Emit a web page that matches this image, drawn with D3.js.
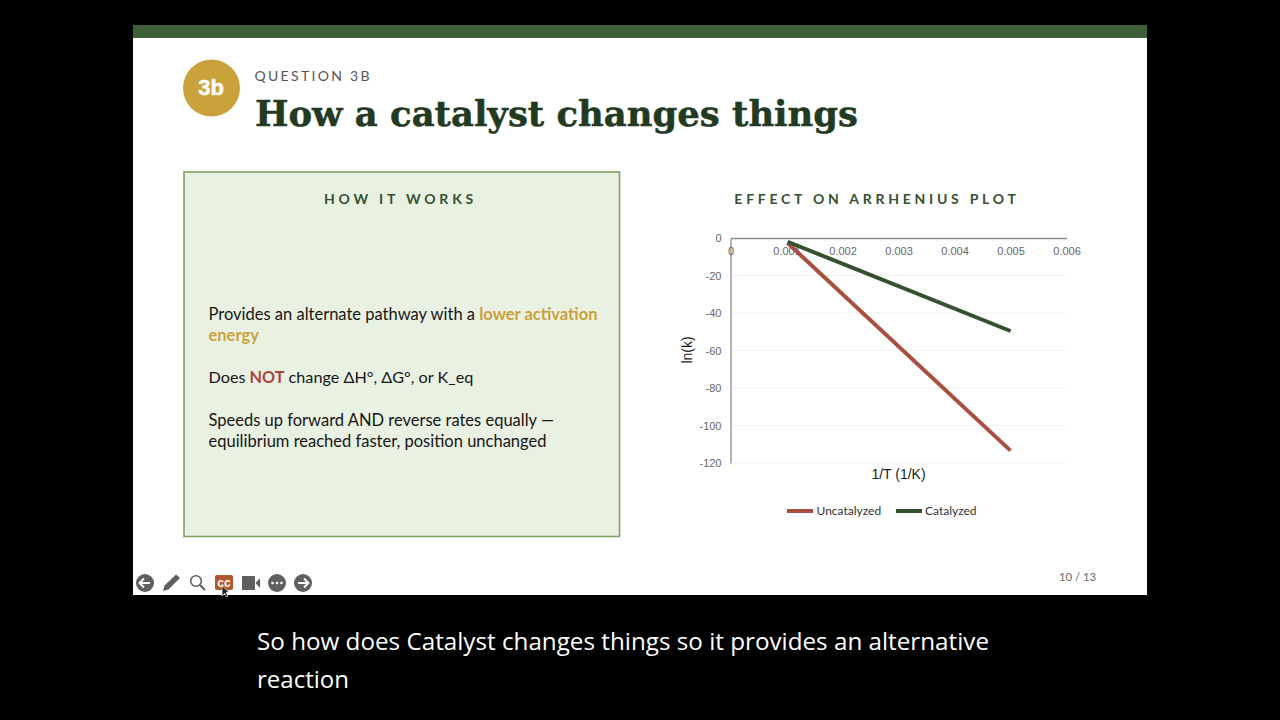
<!DOCTYPE html>
<html><head><meta charset="utf-8">
<script src="https://cdn.jsdelivr.net/npm/d3@7/dist/d3.min.js"></script>
<style>html,body{margin:0;padding:0;background:#000;overflow:hidden}svg{display:block}</style>
</head><body><svg id="c" width="1280" height="720"></svg>
<script>
const xTicks = [0, 0.001, 0.002, 0.003, 0.004, 0.005, 0.006];
const yTicks = [0, -20, -40, -60, -80, -100, -120];
const uncatX = [0.00102, 0.005];
const uncatY = [-2.7, -113.4];
const catX = [0.00102, 0.005];
const catY = [-2, -49.6];
const seriesNames = ["Uncatalyzed", "Catalyzed"];
const seriesColors = ["#a8503f", "#35512f"];

const svg = d3.select("#c");
const sans = "Lato, 'Open Sans', sans-serif";
const arial = "'Liberation Sans', Arial, sans-serif";
function text(x, y, s, o = {}) {
  const t = svg.append("text").attr("x", x).attr("y", y).text(s)
    .attr("font-family", o.f || sans).attr("font-size", o.s || 16)
    .attr("fill", o.c || "#111").attr("font-weight", o.w || 400)
    .attr("text-anchor", o.a || "start");
  if (o.ls) t.attr("letter-spacing", o.ls);
  return t;
}
function rich(x, y, parts, size) {
  const t = svg.append("text").attr("x", x).attr("y", y)
    .attr("font-family", sans).attr("font-size", size).attr("fill", "#161616");
  parts.forEach(p => t.append("tspan").text(p[0]).attr("fill", p[1] || "#161616")
    .attr("font-weight", p[1] ? 700 : 400));
}

// slide
svg.append("rect").attr("x", 133).attr("y", 25).attr("width", 1014).attr("height", 570).attr("fill", "#fff");
svg.append("rect").attr("x", 133).attr("y", 25).attr("width", 1014).attr("height", 13).attr("fill", "#3f5f38");

// header
svg.append("ellipse").attr("cx", 211.5).attr("cy", 88).attr("rx", 28.5).attr("ry", 28.5).attr("fill", "#c9a23c");
text(211, 95, "3b", {f: arial, s: 22, w: 700, c: "#fff", a: "middle"}).attr("stroke", "#fff").attr("stroke-width", 0.5);
text(254.5, 80.5, "QUESTION 3B", {s: 14, c: "#555", ls: 2.3});
text(255, 126, "How a catalyst changes things", {f: "'DejaVu Serif', serif", s: 36, w: 700, c: "#233a22"})
  .attr("textLength", 603).attr("lengthAdjust", "spacingAndGlyphs").attr("stroke", "#233a22").attr("stroke-width", 0.5);

// left panel
svg.append("rect").attr("x", 184).attr("y", 172).attr("width", 435.5).attr("height", 364.5)
  .attr("fill", "#e9f1e2").attr("stroke", "#7ea55f").attr("stroke-width", 1.6);
text(400.5, 204, "HOW IT WORKS", {s: 14, w: 700, c: "#35512f", ls: 3.8, a: "middle"});
const gold = "#c9a23c", red = "#a8423f";
const bodySize = 16.5;
rich(208.5, 320, [["Provides an alternate pathway with a "], ["lower activation", gold]], bodySize);
rich(208.5, 341, [["energy", gold]], bodySize);
rich(208.5, 383, [["Does "], ["NOT", red], [" change ΔH°, ΔG°, or K_eq"]], bodySize - 0.3);
rich(208.5, 426, [["Speeds up forward AND reverse rates equally —"]], bodySize);
rich(208.5, 447, [["equilibrium reached faster, position unchanged"]], bodySize);

// chart
text(877, 204, "EFFECT ON ARRHENIUS PLOT", {s: 14, w: 700, c: "#35512f", ls: 3.75, a: "middle"});
const x = d3.scaleLinear().domain([0, 0.006]).range([730.5, 1066.5]);
const y = d3.scaleLinear().domain([-120, 0]).range([463, 238]);

const grid = svg.append("g");
grid.selectAll("line").data(yTicks.filter(d => d !== 0)).join("line")
  .attr("x1", x(0)).attr("x2", x(0.006)).attr("y1", d => y(d)).attr("y2", d => y(d))
  .attr("stroke", "#f1f1ef").attr("stroke-width", 1);

const yAxis = svg.append("g").attr("transform", `translate(${x(0)},0)`)
  .call(d3.axisLeft(y).tickValues(yTicks).tickSize(0).tickPadding(9).tickFormat(d => String(d)));
yAxis.select(".domain").attr("stroke", "#8a8a8a").attr("stroke-width", 1.3);
yAxis.selectAll("text").attr("font-family", arial).attr("font-size", 11).attr("fill", "#666");

const xAxis = svg.append("g").attr("transform", `translate(0,${y(0)})`)
  .call(d3.axisBottom(x).tickValues(xTicks).tickSize(0).tickPadding(9).tickFormat(d => d === 0 ? "0" : d3.format(".3f")(d)));
xAxis.select(".domain").attr("stroke", "#8a8a8a").attr("stroke-width", 1.3);
xAxis.selectAll("text").attr("font-family", arial).attr("font-size", 11).attr("fill", "#666");

const line = d3.line().x(d => x(d[0])).y(d => y(d[1]));
svg.append("path").datum(d3.zip(uncatX, uncatY)).attr("d", line).attr("fill", "none")
  .attr("stroke", seriesColors[0]).attr("stroke-width", 4);
svg.append("path").datum(d3.zip(catX, catY)).attr("d", line).attr("fill", "none")
  .attr("stroke", seriesColors[1]).attr("stroke-width", 4);

text(898.5, 479, "1/T (1/K)", {f: arial, s: 14, c: "#222", a: "middle"});
text(0, 0, "ln(k)", {f: arial, s: 14, c: "#222", a: "middle"}).attr("transform", "translate(692,350) rotate(-90)");

// legend
[[787, 816.5], [896, 925]].forEach((p, i) => {
  svg.append("line").attr("x1", p[0]).attr("x2", p[0] + 26).attr("y1", 511).attr("y2", 511)
    .attr("stroke", seriesColors[i]).attr("stroke-width", 4);
  text(p[1], 514.5, seriesNames[i], {s: 12, c: "#333"});
});

text(1096, 581, "10 / 13", {s: 11.3, c: "#666", a: "end"});

// toolbar icons
const ic = "#5f5f5f";
function circ(cx) { svg.append("circle").attr("cx", cx).attr("cy", 583).attr("r", 9).attr("fill", ic); }
circ(145); circ(277); circ(303);
svg.append("path").attr("d", "M150 583H140M144 578.5L139.5 583L144 587.5").attr("fill", "none").attr("stroke", "#fff").attr("stroke-width", 1.8);
svg.append("path").attr("d", "M298 583H308M304 578.5L308.5 583L304 587.5").attr("fill", "none").attr("stroke", "#fff").attr("stroke-width", 1.8);
[272.5, 277, 281.5].forEach(c => svg.append("circle").attr("cx", c).attr("cy", 583).attr("r", 1.3).attr("fill", "#fff"));
svg.append("path").attr("d", "M163 591L164.5 585.5L176 574.5L180 578L168.5 589.5Z").attr("fill", ic);
svg.append("circle").attr("cx", 196).attr("cy", 581).attr("r", 5.3).attr("fill", "none").attr("stroke", ic).attr("stroke-width", 1.6);
svg.append("line").attr("x1", 200).attr("y1", 585).attr("x2", 205).attr("y2", 590).attr("stroke", ic).attr("stroke-width", 2.2);
svg.append("rect").attr("x", 215).attr("y", 575).attr("width", 18).attr("height", 15).attr("rx", 2).attr("fill", "#b5562a");
text(224, 587, "cc", {f: arial, s: 12, w: 700, c: "#fff", a: "middle"});
svg.append("rect").attr("x", 242).attr("y", 576).attr("width", 13).attr("height", 14).attr("fill", ic);
svg.append("path").attr("d", "M255.5 583L260 578V588Z").attr("fill", ic);
svg.append("path").attr("d", "M222 586V596L224.5 593.5L226.5 597L228 596L226 592.5L229 592Z").attr("fill", "#222").attr("stroke", "#fff").attr("stroke-width", .6);

// caption
text(257, 650, "So how does Catalyst changes things so it provides an alternative", {f: "'Open Sans', sans-serif", s: 24, c: "#fff"}).attr("textLength", 732).attr("lengthAdjust", "spacingAndGlyphs");
text(257, 688, "reaction", {f: "'Open Sans', sans-serif", s: 24, c: "#fff"}).attr("textLength", 92).attr("lengthAdjust", "spacingAndGlyphs");
</script></body></html>
